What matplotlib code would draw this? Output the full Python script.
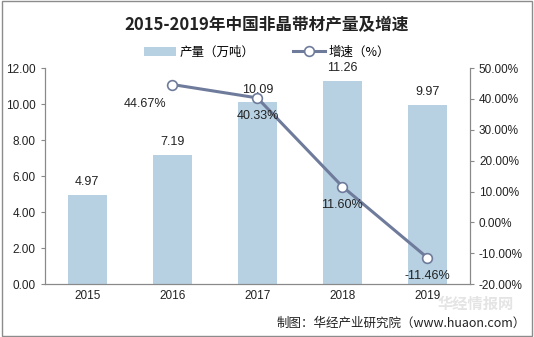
import matplotlib.pyplot as plt
from matplotlib.ticker import FuncFormatter
from matplotlib.patches import Rectangle

plt.rcParams['font.family'] = ['Liberation Sans', 'Noto Sans CJK SC']

years = ['2015', '2016', '2017', '2018', '2019']
output = [4.97, 7.19, 10.09, 11.26, 9.97]
growth_years = ['2016', '2017', '2018', '2019']
growth = [44.67, 40.33, 11.60, -11.46]

bar_color = '#b7d1e3'
line_color = '#6f7b9b'
axis_color = '#898989'

fig = plt.figure(figsize=(5.34, 3.37), dpi=100)
fig.patches.append(Rectangle((0.004, 0.004), 0.992, 0.992, transform=fig.transFigure,
                             fill=False, edgecolor='#8c8c8c', linewidth=1.0))

ax1 = fig.add_axes([0.084, 0.157, 0.796, 0.641])
x = range(len(years))
ax1.bar(x, output, width=0.46, color=bar_color, label='产量（万吨）', zorder=2)
ax1.set_ylim(0, 12)
ax1.set_yticks([0, 2, 4, 6, 8, 10, 12])
ax1.yaxis.set_major_formatter(FuncFormatter(lambda v, p: '%.2f' % v))
ax1.set_xlim(-0.5, len(years) - 0.5)
ax1.set_xticks(list(x))
ax1.set_xticklabels(years)
for i, v in enumerate(output):
    ax1.annotate('%.2f' % v, (i, v), xytext=(0, 5), textcoords='offset points',
                 ha='center', va='bottom', fontsize=9, color='#222222')

ax2 = ax1.twinx()
gx = [years.index(y) for y in growth_years]
ax2.plot(gx, growth, color=line_color, linewidth=2.2, marker='o', markersize=7,
         markerfacecolor='white', markeredgecolor=line_color, markeredgewidth=1.2,
         label='增速（%）', zorder=3)
ax2.set_ylim(-20, 50)
ax2.set_yticks(range(-20, 51, 10))
ax2.yaxis.set_major_formatter(FuncFormatter(lambda v, p: '%.2f%%' % v))
offsets = [(-20, -10), (0, -9), (0, -9), (0, -9)]
for xi, v, off in zip(gx, growth, offsets):
    ax2.annotate('%.2f%%' % v, (xi, v), xytext=off, textcoords='offset points',
                 ha='center', va='top', fontsize=9, color='#222222')

for ax in (ax1, ax2):
    ax.spines['top'].set_visible(False)
    for s in ('left', 'right', 'bottom'):
        ax.spines[s].set_color(axis_color)
    ax.tick_params(axis='both', labelsize=8.5, colors='#222222', length=3, color=axis_color)
ax1.tick_params(axis='x', length=0, pad=4)

fig.text(0.5, 0.925, '2015-2019年中国非晶带材产量及增速', ha='center', va='center',
         fontsize=12, fontweight='bold', color='#222222',
         family=['Noto Sans CJK SC'])

h1, l1 = ax1.get_legend_handles_labels()
h2, l2 = ax2.get_legend_handles_labels()
fig.legend(h1 + h2, l1 + l2, loc='center', bbox_to_anchor=(0.5, 0.845), ncol=2,
           frameon=False, fontsize=9, handlelength=2.6, columnspacing=3,
           handletextpad=0.3, prop={'family': ['Noto Sans CJK SC'], 'size': 9})

fig.text(0.89, 0.098, '华经情报网', ha='center', va='center', fontsize=11,
         fontweight='bold', color='#d9d9d9', alpha=0.7, family=['Noto Sans CJK SC'])
fig.text(0.985, 0.04, '制图：华经产业研究院（www.huaon.com）', ha='right', va='center',
         fontsize=9, color='#222222', family=['Noto Sans CJK SC', 'Liberation Sans'])

fig.savefig('out.png', dpi=100)
